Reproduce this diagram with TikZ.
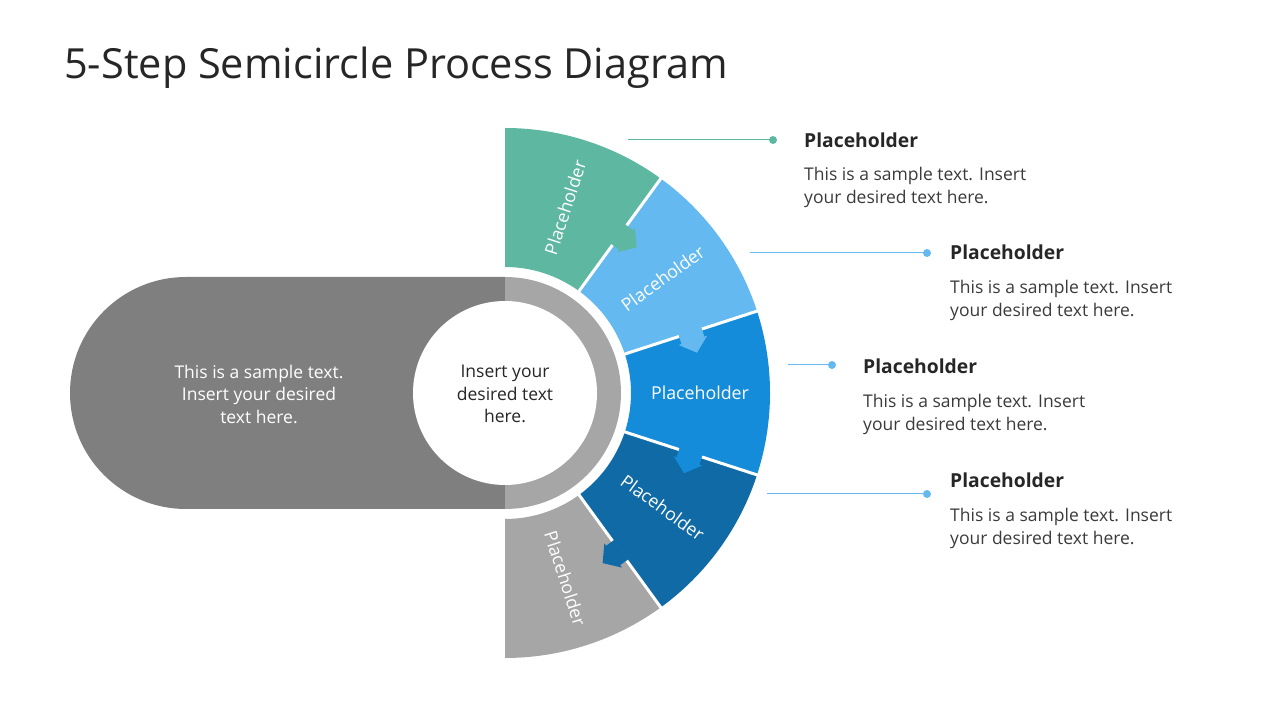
\documentclass[tikz,border=0pt]{standalone}
\usepackage{fontspec}
\setmainfont{Open Sans}
\usetikzlibrary{positioning}

\definecolor{stepgreen}{HTML}{5EB7A1}
\definecolor{steplight}{HTML}{64BAF0}
\definecolor{stepblue}{HTML}{148CDA}
\definecolor{stepdark}{HTML}{0F6AA6}
\definecolor{stepgray}{HTML}{A6A6A6}
\definecolor{pilldark}{HTML}{7F7F7F}
\definecolor{textdark}{HTML}{262626}
\definecolor{textgray}{HTML}{3A3A3A}

\begin{document}
\begin{tikzpicture}[x=1pt, y=1pt,
    seglabel/.style={text=white, inner sep=0pt, font=\fontsize{17.8}{20}\selectfont},
    leader/.style={line width=1pt},
    dot/.style={circle, fill, inner sep=0pt, minimum size=8pt},
    head/.style={anchor=west, inner sep=0pt, text=textdark, font=\bfseries\fontsize{19.3}{22}\selectfont},
    body/.style={anchor=north west, inner sep=0pt, align=left, text=textgray, font=\fontsize{17.5}{23}\selectfont}]

    \useasboundingbox (0,0) rectangle (1280,720);

    \node[anchor=west, inner sep=0pt, text=textdark, font=\fontsize{41.5}{46}\selectfont] (title) at (64,652) {5-Step Semicircle Process Diagram};

    % left pill and hub
    \fill[pilldark] (505,211) -- (186,211) arc[start angle=270, end angle=90, radius=116] -- (505,443) -- cycle;
    \fill[stepgray] (505,211) arc[start angle=-90, end angle=90, radius=116] -- cycle;
    \node[circle, fill=white, minimum size=184pt, inner sep=0pt] (hub) at (505,327) {};
    \node[align=center, text=textdark, font=\fontsize{17.5}{22.5}\selectfont] (hubtext) at (505,326) {Insert your\\desired text\\here.};
    \node[align=center, text=white, font=\fontsize{17.5}{22.5}\selectfont] (pilltext) at (259,326) {This is a sample text.\\Insert your desired\\text here.};

    % five steps
    \begin{scope}[shift={(505,327)}]
        \foreach \a/\col [count=\i, evaluate=\a as \b using \a-36] in {90/stepgreen, 54/steplight, 18/stepblue, -18/stepdark, -54/stepgray}{
            \fill[\col] (\a:126) -- (\a:265) arc[start angle=\a, end angle=\b, radius=265] -- (\b:126) arc[start angle=\b, end angle=\a, radius=126] -- cycle;
        }
        \foreach \b in {54,18,-18,-54}
            \draw[white, line width=3pt] (\b:118) -- (\b:272);
        \foreach \b/\col in {54/stepgreen, 18/steplight, -18/stepblue, -54/stepdark}
            \fill[\col, rotate=\b] (183,2) -- (183,-8) -- (180,-8) -- (195,-21) -- (210,-8) -- (207,-8) -- (207,2) -- cycle;
        \foreach \m [count=\i] in {72,36,0,-36,-72}
            \node[seglabel, rotate=\m] (seg\i) at (\m:195) {Placeholder};
    \end{scope}

    % callouts
    \coordinate (l1) at (628,580);
    \node[dot, stepgreen] (d1) at (773,580) {};
    \draw[leader, stepgreen] (l1) -- (d1);
    \node[head] (h1) at (804,580) {Placeholder};
    \node[body] (t1) at (804,553) {This is a sample text. Insert\\your desired text here.};

    \coordinate (l2) at (750,467);
    \node[dot, steplight] (d2) at (927,467) {};
    \draw[leader, steplight] (l2) -- (d2);
    \node[head] (h2) at (950,468) {Placeholder};
    \node[body] (t2) at (950,440) {This is a sample text. Insert\\your desired text here.};

    \coordinate (l3) at (788,355);
    \node[dot, steplight] (d3) at (832,355) {};
    \draw[leader, steplight] (l3) -- (d3);
    \node[head] (h3) at (863,354) {Placeholder};
    \node[body] (t3) at (863,326) {This is a sample text. Insert\\your desired text here.};

    \coordinate (l4) at (767,226);
    \node[dot, steplight] (d4) at (927,226) {};
    \draw[leader, steplight] (l4) -- (d4);
    \node[head] (h4) at (950,240) {Placeholder};
    \node[body] (t4) at (950,212) {This is a sample text. Insert\\your desired text here.};
\end{tikzpicture}
\end{document}
